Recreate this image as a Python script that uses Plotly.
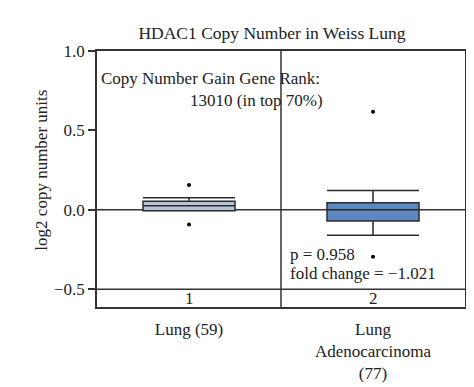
import plotly.graph_objects as go

categories = ["Lung (59)", "Lung<br>Adenocarcinoma<br>(77)"]
band_labels = ["1", "2"]
positions = [1, 2]
q1 = [-0.006, -0.07]
median = [0.025, 0.0]
q3 = [0.054, 0.045]
lowerfence = [-0.006, -0.16]
upperfence = [0.076, 0.122]
outliers_x = [1, 1, 2, 2]
outliers_y = [0.157, -0.093, 0.618, -0.296]
fills = ["#b4c6d8", "#5a87bd"]

FONT = "Liberation Serif"
FS = 17
Y_BOTTOM = -0.612
Y_TOP = 1.0

L, R, T, B = 89, 17, 43, 84
W, H = 474, 387

fig = go.Figure()
for i in range(2):
    fig.add_trace(go.Box(
        x=[positions[i]], q1=[q1[i]], median=[median[i]], q3=[q3[i]],
        lowerfence=[lowerfence[i]], upperfence=[upperfence[i]],
        fillcolor=fills[i], line=dict(color="#2b2b2b", width=1.5),
        width=0.5, whiskerwidth=1, boxpoints=False, showlegend=False,
    ))
fig.add_trace(go.Scatter(
    x=outliers_x, y=outliers_y, mode="markers",
    marker=dict(color="black", size=4), showlegend=False,
))

line_style = dict(color="#333", width=1.5)
fig.add_shape(type="line", xref="paper", yref="y", x0=0, x1=1, y0=0, y1=0, line=line_style, layer="below")
fig.add_shape(type="line", xref="paper", yref="y", x0=0, x1=1, y0=-0.5, y1=-0.5, line=line_style)
fig.add_shape(type="line", xref="x", yref="paper", x0=1.5, x1=1.5, y0=0, y1=1, line=line_style)

txt_font = dict(family=FONT, size=FS, color="#222")
for p, lab in zip(positions, band_labels):
    fig.add_annotation(x=p, y=(-0.5 + Y_BOTTOM) / 2, xref="x", yref="y", text=lab,
                       showarrow=False, font=txt_font)

fig.add_annotation(x=0.51, y=0.83, xref="x", yref="y", text="Copy Number Gain Gene Rank:",
                   showarrow=False, xanchor="left", font=txt_font)
fig.add_annotation(x=1.74, y=0.69, xref="x", yref="y", text="13010 (in top 70%)",
                   showarrow=False, xanchor="right", font=txt_font)
fig.add_annotation(x=1.54, y=-0.28, xref="x", yref="y", text="p = 0.958",
                   showarrow=False, xanchor="left", font=txt_font)
fig.add_annotation(x=1.54, y=-0.40, xref="x", yref="y", text="fold change = \u22121.021",
                   showarrow=False, xanchor="left", font=txt_font)

fig.add_annotation(x=(22 - L) / (W - L - R), y=(H - B - 164) / (H - T - B),
                   xref="paper", yref="paper",
                   text="log2 copy number units", textangle=-90, showarrow=False,
                   font=txt_font)

fig.update_layout(
    width=W, height=H,
    margin=dict(l=L, r=R, t=T, b=B),
    paper_bgcolor="white", plot_bgcolor="white",
    font=txt_font,
    title=dict(text="HDAC1 Copy Number in Weiss Lung", x=264 / W, xanchor="center",
               y=1 - 25 / H, yanchor="middle", font=dict(family=FONT, size=17.5, color="#222")),
    xaxis=dict(range=[0.5, 2.5], tickmode="array", tickvals=positions, ticktext=categories,
               showgrid=False, zeroline=False, showline=True, linecolor="#333", linewidth=1.5,
               mirror=True, ticks="", ticklabelstandoff=6),
    yaxis=dict(range=[Y_BOTTOM, Y_TOP], tickmode="array", tickvals=[1.0, 0.5, 0.0, -0.5],
               ticktext=["1.0", "0.5", "0.0", "\u22120.5"], showgrid=False, zeroline=False,
               showline=True, linecolor="#333", linewidth=1.5, mirror=True,
               ticks="outside", ticklen=7, tickcolor="#333", tickwidth=1.5),
)

fig.write_html("out.html")
